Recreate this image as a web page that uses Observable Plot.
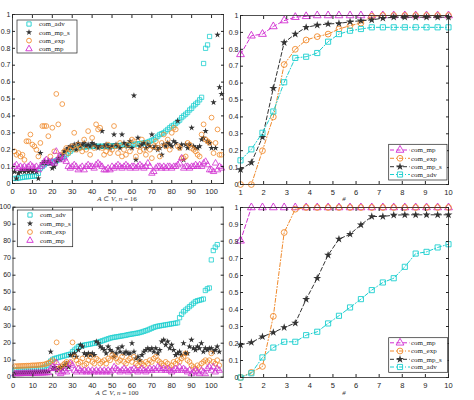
<!DOCTYPE html>
<html><head><meta charset="utf-8">
<script src="https://cdn.jsdelivr.net/npm/d3@7"></script>
<script src="https://cdn.jsdelivr.net/npm/@observablehq/plot@0.6"></script>
<style>
body{margin:0;background:#fff;}
#root{position:relative;width:474px;height:400px;overflow:hidden;background:#fff;}
.panel{position:absolute;}
.xlab{position:absolute;font-family:"Liberation Serif","DejaVu Serif",serif;font-size:7px;color:#333;transform:translate(-50%,-50%);white-space:nowrap;}
.xlab i{font-style:italic;}
#leg{position:absolute;left:0;top:0;}
</style></head><body><div id="root"></div>
<script>
// ---------- data: top-left (n = 16), x = subset rank ----------
const advTop = [0.03,0.03,0.032,0.034,0.036,0.038,0.04,0.04,0.042,0.043,0.044,0.045,
0.06,0.09,0.1,0.11,0.12,0.12,0.125,0.13,
0.13,0.135,0.14,0.15,0.155,0.16,0.17,0.18,0.19,0.2,
0.205,0.21,0.21,0.215,0.215,0.215,0.218,0.218,0.218,0.22,
0.22,0.22,0.22,0.22,0.22,0.22,0.22,0.222,0.222,0.222,
0.222,0.223,0.224,0.225,0.226,0.227,0.228,0.228,0.229,0.23,
0.232,0.233,0.235,0.236,0.238,0.24,0.242,0.245,0.25,0.255,
0.26,0.27,0.28,0.29,0.295,0.3,0.31,0.32,0.33,0.34,
0.345,0.355,0.365,0.375,0.39,0.4,0.41,0.42,0.435,0.445,
0.46,0.47,0.48,0.495,0.51,0.71,0.8,0.82,0.87];
const mpsTop = [0.07,0.03,0.06,0.07,0.08,0.07,0.08,0.07,0.08,0.07,0.08,0.07,0.03,0.18,0.12,0.13,0.12,0.13,0.12,0.09,
0.1,0.13,0.15,0.14,0.17,0.19,0.2,0.21,0.22,0.21,0.23,0.2,0.24,0.22,0.23,0.24,0.22,0.23,0.22,0.24,
0.23,0.22,0.21,0.22,0.31,0.22,0.23,0.22,0.21,0.22,0.29,0.23,0.22,0.21,0.29,0.24,0.23,0.22,0.25,0.21,
0.52,0.14,0.27,0.22,0.23,0.24,0.21,0.23,0.22,0.29,0.21,0.22,0.2,0.21,0.17,0.23,0.22,0.24,0.23,0.22,
0.25,0.24,0.37,0.21,0.23,0.14,0.23,0.21,0.23,0.33,0.22,0.21,0.21,0.22,0.26,0.27,0.31,0.25,0.24,0.21,
0.48,0.21,0.88,0.57,0.53];
const expTop = [0.19,0.17,0.18,0.16,0.17,0.14,0.25,0.25,0.29,0.23,0.22,0.2,0.16,0.24,0.34,0.34,0.34,0.28,0.16,0.33,
0.19,0.53,0.35,0.17,0.47,0.19,0.21,0.18,0.2,0.22,0.3,0.2,0.23,0.21,0.19,0.26,0.2,0.31,0.17,0.27,
0.21,0.35,0.32,0.33,0.21,0.17,0.19,0.23,0.18,0.2,0.34,0.22,0.18,0.24,0.16,0.2,0.17,0.23,0.19,0.26,
0.25,0.16,0.22,0.19,0.26,0.2,0.17,0.24,0.2,0.15,0.22,0.25,0.21,0.16,0.24,0.29,0.22,0.26,0.2,0.3,
0.33,0.32,0.22,0.21,0.15,0.15,0.16,0.24,0.23,0.21,0.2,0.19,0.17,0.16,0.29,0.35,0.26,0.25,0.24,0.39,
0.18,0.24,0.32,0.17,0.17];
const mpTop = [0.1,0.11,0.09,0.1,0.09,0.1,0.09,0.1,0.11,0.1,0.09,0.1,0.08,0.1,0.11,0.13,0.14,0.13,0.12,0.13,
0.12,0.19,0.15,0.16,0.14,0.15,0.13,0.1,0.09,0.1,0.11,0.1,0.08,0.09,0.1,0.08,0.1,0.11,0.1,0.1,
0.09,0.11,0.12,0.11,0.1,0.08,0.08,0.09,0.08,0.1,0.09,0.1,0.11,0.1,0.09,0.1,0.11,0.1,0.09,0.1,
0.1,0.09,0.1,0.11,0.1,0.09,0.1,0.12,0.1,0.06,0.07,0.09,0.1,0.1,0.09,0.1,0.09,0.1,0.1,0.09,
0.1,0.1,0.11,0.12,0.15,0.09,0.1,0.1,0.09,0.1,0.1,0.11,0.1,0.11,0.1,0.12,0.13,0.11,0.08,0.08,
0.07,0.12,0.08,0.1,0.09];

// ---------- data: bottom-left (n = 100) ----------
const advBot = [4.2,4.3,4.4,4.4,4.5,4.5,4.6,4.6,4.7,4.7,4.8,4.9,5,5.2,5.5,6,7,8,9.5,10.5,
11,11.3,11.6,12,12.3,12.6,13,13.3,13.6,15,16,17,18,18.3,18.6,18.9,19.1,19.3,19.5,19.8,
20,20.3,20.6,21,21.4,21.8,22.2,22.6,23,23.3,23.5,23.7,23.9,24.1,24.3,24.5,24.7,25,25.2,25.4,
25.6,25.8,26,26.3,26.6,27,27.4,27.8,28.3,28.8,29.3,29.7,30,30.2,30.4,30.6,30.8,31,31.2,31.4,
31.6,31.8,32,35,37,38.5,39.5,40.5,41.5,42.5,43.5,44.5,45,45.3,45.6,46,51,52,52.5,69,
74.5,76.5,78];
const mpsBot = [2.5,2.5,2.6,2.6,2.7,2.7,2.8,2.8,2.9,2.9,3,3,3.1,3.1,3.2,3.3,3.4,3.5,15,5,
6,4,5,6,5,7,8,6,13,13,14,12,16,19,18,14,13,14,13,14,
13,21,20,18,17,16,14,18,16,15,12,14,17,15,18,14,15,14,14,20,
15,11,12,10,13,15,16,17,16,17,15,17,14,16,21,22,19,21,17,19,
16,13,14,15,13,20,14,14,18,22,17,16,18,17,20,15,17,16,17,17,
15,16,18,15];
const expBot = [6.5,6.5,6.6,6.6,6.7,6.7,6.8,6.8,6.9,7,7,7.1,7.2,7.3,7.4,7.6,8,8.5,9,10,
9,20.5,5,6,7,8,9,8,9,20.5,12,10,8,9,11,7,8,10,12,9,
8,11,10,8,9,10,8,11,10,13,12,11,9,10,12,9,8,10,11,9,
12,8,7,9,8,7,9,8,10,9,11,12,10,9,8,7,9,8,6,7,
9,8,10,9,11,12,14,10,9,7,6,5,7,6,8,9,10,9,10,14,
9,8,10,7];
const mpBot = [2,2,2,2,2.1,2.1,2.1,2.2,2.2,2.2,2.3,2.3,2.3,2.4,2.4,2.5,2.5,2.6,5,6,
5,8.5,3,2,3,4,3,5,8,7,4,3,5,4,3,4,3,4,3,4,
3,4,3,4,3,4,3,4,3,4,6,5,4,3,4,5,4,3,4,4,
5,4,3,4,5,4,3,4,5,4,5,4,6,5,4,5,4,5,4,3,
4,5,4,6,4,5,4,3,4,2,3,4,3,2,4,3,2,5,6,4,
6,3,5,4];

// ---------- data: right panels, x = # ----------
const hashX = [1,1.47,1.95,2.42,2.89,3.37,3.84,4.32,4.79,5.26,5.74,6.21,6.68,7.16,7.63,8.11,8.58,9.05,9.53,10];
const mpR16  = [0.77,0.88,0.89,0.935,0.97,0.99,0.995,1,1,1,1,1,1,1,1,1,1,1,1,1];
const expR16 = [0,0,0.2,0.4,0.71,0.8,0.855,0.875,0.89,0.92,0.94,0.955,0.995,1,1,1,1,1,1,1];
const mpsR16 = [0.088,0.13,0.28,0.57,0.84,0.89,0.93,0.943,0.95,0.953,0.963,0.969,0.974,0.984,0.99,0.99,0.99,0.99,0.99,0.99];
const advR16 = [0.143,0.208,0.306,0.432,0.605,0.749,0.756,0.778,0.845,0.89,0.91,0.92,0.93,0.93,0.93,0.93,0.93,0.93,0.93,0.93];
const mpR100  = [0.804,1,1,1,1,1,1,1,1,1,1,1,1,1,1,1,1,1,1,1];
const expR100 = [0,0.03,0.065,0.36,0.853,0.99,1,1,1,1,1,1,1,1,1,1,1,1,1,1];
const mpsR100 = [0.192,0.206,0.24,0.265,0.294,0.32,0.46,0.584,0.72,0.814,0.843,0.898,0.947,0.947,0.955,0.957,0.957,0.957,0.957,0.957];
const advR100 = [0,0.025,0.118,0.176,0.21,0.21,0.249,0.269,0.318,0.363,0.412,0.461,0.514,0.559,0.584,0.651,0.729,0.739,0.765,0.784];

// ---------- ticks & labels ----------
const xTicksRank = [0,10,20,30,40,50,60,70,80,90,100];
const yTicks01 = [0,0.1,0.2,0.3,0.4,0.5,0.6,0.7,0.8,0.9,1];
const yTicks100 = [0,10,20,30,40,50,60,70,80,90,100];
const xTicksHash = [1,2,3,4,5,6,7,8,9,10];
const legendScatter = ["com_adv","com_mp_s","com_exp","com_mp"];
const legendLines = ["com_mp","com_exp","com_mp_s","com_adv"];

// ---------- styles ----------
const C = {adv:"#1ccfcf", mps:"#333333", exp:"#f08a2c", mp:"#d12fd1"};
const SYM = {adv:"square", mps:"star", exp:"circle", mp:"triangle"};
const D3SYM = {adv:d3.symbolSquare, mps:d3.symbolStar, exp:d3.symbolCircle, mp:d3.symbolTriangle};
const DASH = {mp:"4,2.5", exp:"4,2,1,2", mps:"4,2.5", adv:"4,2,1,2"};
const nameKey = {com_adv:"adv", com_mp_s:"mps", com_exp:"exp", com_mp:"mp"};
const R_SCAT = {adv:2.4, mps:2.0, exp:2.4, mp:2.4};
const R_LINE = {adv:2.9, mps:2.5, exp:2.9, mp:2.9};

const root = document.getElementById("root");
const fmt = d => String(+d.toFixed(2));

function axes(xT, yT) {
  const common = {label:null, stroke:"#262626", color:"#262626", fontSize:7.5};
  return [
    Plot.frame({stroke:"#262626", strokeWidth:0.8}),
    Plot.axisX({...common, ticks:xT, anchor:"bottom", tickSize:-3, tickPadding:8, tickFormat:fmt}),
    Plot.axisX({...common, ticks:xT, anchor:"top", tickSize:-3, tickFormat:() => ""}),
    Plot.axisY({...common, fontSize:7, ticks:yT, anchor:"left", tickSize:-3, tickPadding:5, tickFormat:fmt}),
    Plot.axisY({...common, ticks:yT, anchor:"right", tickSize:-3, tickFormat:() => ""})
  ];
}

function place(el, left, top) {
  el.classList.add("panel");
  el.style.left = left + "px"; el.style.top = top + "px";
  root.appendChild(el);
}

function scatterPanel(series, yDomain, yT, geom) {
  const marks = [];
  for (const [key, arr] of series) {
    const data = arr.map((v, i) => ({x: i + 1, y: v}));
    const filled = key === "mps";
    marks.push(Plot.dot(data, {x:"x", y:"y", symbol:SYM[key], r: R_SCAT[key],
      fill: filled ? C[key] : "none", stroke: filled ? "none" : C[key], strokeWidth:0.8}));
  }
  return Plot.plot({
    width:geom.w, height:geom.h, marginLeft:geom.mL, marginRight:geom.mR, marginTop:geom.mT, marginBottom:geom.mB,
    x:{domain:[0,106]}, y:{domain:yDomain},
    style:{fontFamily:"'Liberation Sans', Arial, sans-serif", fontSize:"7.5px", background:"transparent", overflow:"visible", color:"#262626"},
    marks:[...marks, ...axes(xTicksRank, yT)]
  });
}

function linePanel(series, geom) {
  const marks = [];
  for (const [key, arr] of series) {
    const data = arr.map((v, i) => ({x: hashX[i], y: v}));
    const filled = key === "mps";
    marks.push(Plot.line(data, {x:"x", y:"y", stroke:C[key], strokeWidth:1, strokeDasharray:DASH[key]}));
    marks.push(Plot.dot(data, {x:"x", y:"y", symbol:SYM[key], r: R_LINE[key],
      fill: filled ? C[key] : "none", stroke: filled ? "none" : C[key], strokeWidth:0.9}));
  }
  return Plot.plot({
    width:geom.w, height:geom.h, marginLeft:geom.mL, marginRight:geom.mR, marginTop:geom.mT, marginBottom:geom.mB,
    x:{domain:[1,10]}, y:{domain:[0,1]},
    style:{fontFamily:"'Liberation Sans', Arial, sans-serif", fontSize:"7.5px", background:"transparent", overflow:"visible", color:"#262626"},
    marks:[...marks, ...axes(xTicksHash, yTicks01)]
  });
}

place(scatterPanel([["adv",advTop],["mps",mpsTop],["exp",expTop],["mp",mpTop]], [0,1], yTicks01,
  {w:226,h:200,mL:12,mR:3,mT:14,mB:17}), 0, 0);
place(linePanel([["mp",mpR16],["exp",expR16],["mps",mpsR16],["adv",advR16]],
  {w:226,h:200,mL:14,mR:4,mT:15,mB:16}), 226, 0);
place(scatterPanel([["adv",advBot],["mps",mpsBot],["exp",expBot],["mp",mpBot]], [0,100], yTicks100,
  {w:226,h:200,mL:12.5,mR:3.3,mT:6.7,mB:23.3}), 0, 200);
place(linePanel([["mp",mpR100],["exp",expR100],["mps",mpsR100],["adv",advR100]],
  {w:226,h:200,mL:14,mR:4,mT:7,mB:23}), 226, 200);

// ---------- axis titles ----------
function xlab(html, x, y) {
  const d = document.createElement("div");
  d.className = "xlab"; d.innerHTML = html;
  d.style.left = x + "px"; d.style.top = y + "px";
  root.appendChild(d);
}
xlab("<i>A</i> ⊂ <i>V</i>, <i>n</i> = 16", 117, 199);
xlab("<i>#</i>", 344, 198.5);
xlab("<i>A</i> ⊂ <i>V</i>, <i>n</i> = 100", 117, 393);
xlab("<i>#</i>", 344, 393);

// ---------- legends ----------
const svg = d3.select(root).append("svg").attr("id","leg").attr("width",474).attr("height",400);
function legend(names, box, rowsY, markX, textX, withLine) {
  svg.append("rect").attr("x",box[0]).attr("y",box[1]).attr("width",box[2]).attr("height",box[3])
    .attr("fill","#fff").attr("stroke","#222").attr("stroke-width",0.7);
  names.forEach((nm, i) => {
    const k = nameKey[nm], y = rowsY[i], filled = k === "mps";
    if (withLine) {
      svg.append("line").attr("x1",markX-10).attr("x2",markX+10).attr("y1",y).attr("y2",y)
        .attr("stroke",C[k]).attr("stroke-width",1).attr("stroke-dasharray",DASH[k]);
    }
    const r = withLine ? R_LINE[k] : R_SCAT[k];
    svg.append("path").attr("transform",`translate(${markX},${y})`)
      .attr("d", d3.symbol(D3SYM[k], Math.PI*r*r)())
      .attr("fill", filled ? C[k] : "none").attr("stroke", filled ? "none" : C[k]).attr("stroke-width",0.9);
    svg.append("text").attr("x",textX).attr("y",y).attr("dy","0.35em")
      .attr("font-family","'Liberation Serif','DejaVu Serif',serif").attr("font-size",7).attr("fill","#222")
      .text(nm);
  });
}
legend(legendScatter, [17,20,60,33], [24,32.3,40.6,48.9], 29, 39, false);
legend(legendScatter, [17.3,210,55.4,36.7], [215,223.5,232,240.5], 30, 40, false);
legend(legendLines, [388.7,144.3,58.3,35.7], [150,158.3,166.7,174.5], 400, 411, true);
legend(legendLines, [388.7,337.7,59,34.6], [342.8,351,359.3,367], 400, 411, true);
</script></body></html>
